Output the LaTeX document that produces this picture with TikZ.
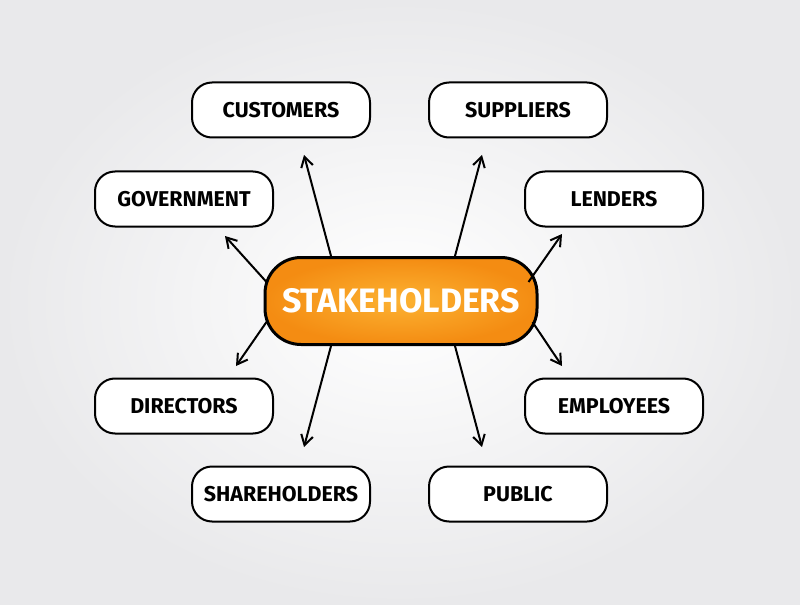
\documentclass[tikz,border=0pt]{standalone}
\usepackage{fontspec}
\setmainfont{Fira Sans}
\usetikzlibrary{arrows.meta}
\definecolor{orangeD}{RGB}{244,140,18}
\definecolor{orangeL}{RGB}{252,178,50}
\definecolor{bgout}{RGB}{233,233,235}
\tikzset{
  leaf/.style={draw=black, line width=2bp, fill=white, rounded corners=20bp,
    minimum width=178bp, minimum height=55bp, inner sep=0pt,
    font=\fontsize{21.5}{21.5}\selectfont\bfseries},
  hub/.style={draw=black, line width=3bp, rounded corners=36bp,
    inner color=orangeL, outer color=orangeD,
    minimum width=272bp, minimum height=87bp, inner sep=0pt, text=white,
    font=\fontsize{34}{34}\selectfont\bfseries},
  arr/.style={line width=2bp, -{Straight Barb[length=10bp,width=12bp,line width=2bp]}}
}
\begin{document}
\begin{tikzpicture}[x=1bp,y=-1bp]
\useasboundingbox (0,0) rectangle (800,605);
\shade[inner color=white, outer color=bgout] (0,0) rectangle (800,605);

\node[hub] (c) at (401,301) {STAKEHOLDERS};

\node[leaf] (cust) at (281,110) {CUSTOMERS};
\node[leaf] (supp) at (518,110) {SUPPLIERS};
\node[leaf] (gov)  at (184,199) {GOVERNMENT};
\node[leaf] (lend) at (614,199) {LENDERS};
\node[leaf] (dir)  at (184,406) {DIRECTORS};
\node[leaf] (emp)  at (614,406) {EMPLOYEES};
\node[leaf] (share) at (281,494) {SHAREHOLDERS};
\node[leaf] (pub)  at (518,494) {PUBLIC};

\coordinate (tcust) at (304,155);
\coordinate (tsupp) at (482,155);
\coordinate (tgov)  at (225,236);
\coordinate (tlend) at (562,234);
\coordinate (tdir)  at (236,366);
\coordinate (temp)  at (562,366);
\coordinate (tshare) at (304,447);
\coordinate (tpub)  at (482,447);

\draw[arr] ([xshift=-70bp]c.north) -- (tcust);
\draw[arr] ([xshift=54bp]c.north) -- (tsupp);
\draw[arr] ([xshift=3bp,yshift=19bp]c.west) -- (tgov);
\draw[arr] ([xshift=-10bp,yshift=19bp]c.east) -- (tlend);
\draw[arr] ([xshift=3bp,yshift=-21bp]c.west) -- (tdir);
\draw[arr] ([xshift=-6bp,yshift=-21bp]c.east) -- (temp);
\draw[arr] ([xshift=-70bp]c.south) -- (tshare);
\draw[arr] ([xshift=54bp]c.south) -- (tpub);
\end{tikzpicture}
\end{document}
